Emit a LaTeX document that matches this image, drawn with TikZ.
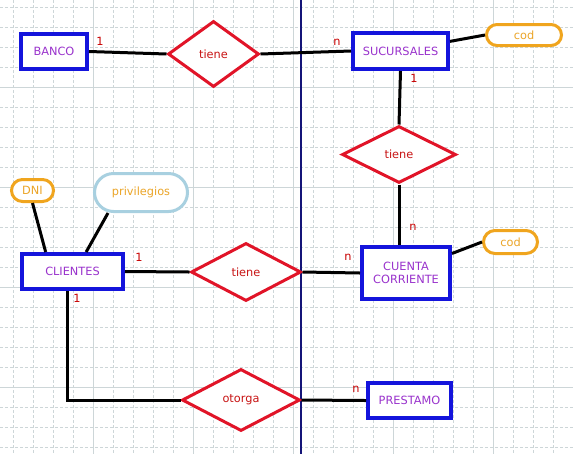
\documentclass[tikz,border=0pt]{standalone}
\usepackage{fontspec}
\setmainfont{DejaVu Sans}
\usetikzlibrary{shapes.geometric,shapes.misc,calc}
\definecolor{entblue}{RGB}{20,20,220}
\definecolor{enttext}{RGB}{153,50,204}
\definecolor{relred}{RGB}{225,20,40}
\definecolor{reltext}{RGB}{200,20,20}
\definecolor{labred}{RGB}{200,0,0}
\definecolor{attorange}{RGB}{240,165,30}
\definecolor{atttext}{RGB}{235,165,40}
\definecolor{attblue}{RGB}{168,208,224}
\definecolor{gridc}{RGB}{205,214,216}
\definecolor{navy}{RGB}{20,20,120}
\tikzset{
  entity/.style={draw=entblue, line width=3pt, rectangle, fill=white, text=enttext, font=\fontsize{8.5}{10}\selectfont, align=center, inner sep=0pt},
  rel/.style={draw=relred, line width=2.25pt, diamond, fill=white, text=reltext, font=\fontsize{8.5}{10}\selectfont, inner sep=0pt, aspect=1.5},
  attr/.style={draw=attorange, line width=2.25pt, rounded rectangle, fill=white, text=atttext, font=\fontsize{8.5}{10}\selectfont, inner sep=0pt},
  conn/.style={draw=black, line width=2.25pt},
  card/.style={text=labred, font=\fontsize{8.5}{10}\selectfont, inner sep=0pt},
  minorgrid/.style={draw=gridc, line width=0.75pt, dash pattern=on 2.25pt off 1.5pt},
  majorgrid/.style={draw=gridc, line width=0.75pt}
}
\begin{document}
\begin{tikzpicture}[x=0.75pt,y=-0.75pt]
\useasboundingbox (0,0) rectangle (573,454);
\fill[white] (0,0) rectangle (573,454);
% grid
\foreach \gx in {13,33,...,573} {\draw[minorgrid] (\gx,0) -- (\gx,454);}
\foreach \gy in {7,27,...,454} {\draw[minorgrid] (0,\gy) -- (573,\gy);}
\foreach \gx in {93,193,293,393,493} {\draw[majorgrid] (\gx,0) -- (\gx,454);}
\foreach \gy in {87,187,287,387} {\draw[majorgrid] (0,\gy) -- (573,\gy);}
\draw[navy, line width=0.9pt] (301,0) -- (301,454);
% entities
\node[entity, minimum width=49.5pt, minimum height=26.25pt] (banco) at (54,51.5) {BANCO};
\node[entity, minimum width=71.25pt, minimum height=27pt] (suc) at (400.5,51) {SUCURSALES};
\node[entity, minimum width=66pt, minimum height=39pt] (cc) at (406,273) {CUENTA\\CORRIENTE};
\node[entity, minimum width=75.75pt, minimum height=26.25pt] (cl) at (72.5,271.5) {CLIENTES};
\node[entity, minimum width=62.25pt, minimum height=26.25pt] (pres) at (409.5,400.5) {PRESTAMO};
% relations
\node[rel, minimum width=68.25pt, minimum height=49.5pt] (t1) at (213.5,54) {tiene};
\node[rel, minimum width=85.5pt, minimum height=42.75pt] (t2) at (399,154.5) {tiene};
\node[rel, minimum width=82.5pt, minimum height=43.5pt] (t3) at (246,272) {tiene};
\node[rel, minimum width=88.5pt, minimum height=46.5pt] (ot) at (241,400) {otorga};
% attributes
\node[attr, minimum width=56.25pt, minimum height=15.75pt] (cod1) at (524,35) {cod};
\node[attr, minimum width=40.5pt, minimum height=17.25pt] (cod2) at (510.5,242) {cod};
\node[attr, minimum width=31.5pt, minimum height=16.5pt] (dni) at (32.5,190.5) {DNI};
\node[attr, draw=attblue, minimum width=69.75pt, minimum height=28.5pt] (priv) at (141,192.5) {privilegios};
% connectors
\path[conn] (banco.east) -- (t1.west);
\path[conn] (t1.east) -- (suc.west);
\path[conn] (suc.11) -- (cod1.west);
\path[conn] (suc.south) -- (t2.north);
\path[conn] (t2.south) -- (t2.south |- cc.north);
\path[conn] (cc.23) -- (cod2.west);
\path[conn] (t3.east) -- (cc.west);
\path[conn] (cl.east) -- (t3.west);
\path[conn] (dni.south) -- (cl.144);
\path[conn] ($(priv.south)+(-33,0)$) -- (cl.55);
\path[conn] ($(cl.south)+(-5.5,0)$) |- (ot.west);
\path[conn] (ot.east) -- (pres.west);
% cardinalities
\node[card] (c1) at (100,41) {1};
\node[card] (c2) at (337,42) {n};
\node[card] (c3) at (414,78) {1};
\node[card] (c4) at (413,227) {n};
\node[card] (c5) at (348,257) {n};
\node[card] (c6) at (139,257) {1};
\node[card] (c7) at (77,298) {1};
\node[card] (c8) at (356,389) {n};
\end{tikzpicture}
\end{document}
